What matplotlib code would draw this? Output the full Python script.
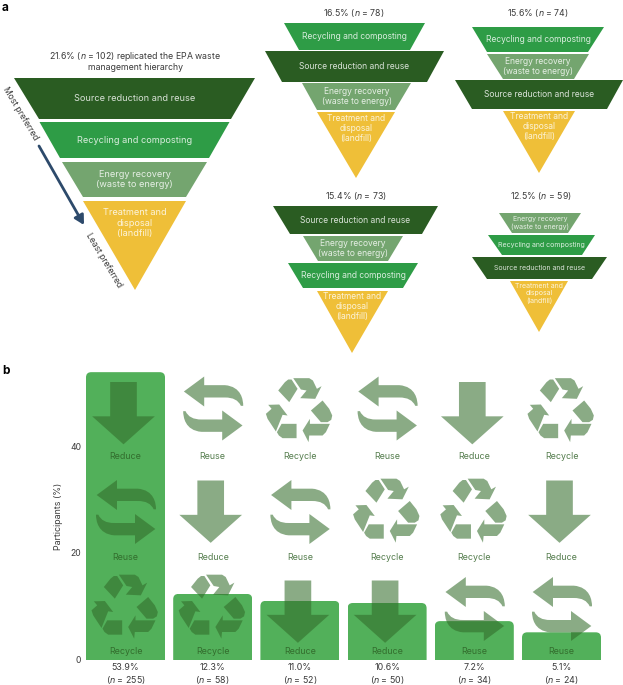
import numpy as np
import matplotlib
matplotlib.use("Agg")
import matplotlib.pyplot as plt
from matplotlib.patches import Polygon, PathPatch, FancyBboxPatch
from matplotlib.path import Path
from matplotlib.transforms import Affine2D

plt.rcParams['font.family'] = ['Inter', 'DejaVu Sans']
plt.rcParams['mathtext.fontset'] = 'custom'
plt.rcParams['mathtext.rm'] = 'Inter'
plt.rcParams['mathtext.it'] = 'Inter:italic'

# panel a
SRC = "Source reduction and reuse"
REC = "Recycling and composting"
ENE = "Energy recovery\n(waste to energy)"
TRT = "Treatment and\ndisposal\n(landfill)"

pyramid_titles = ["21.6% ($\\mathit{n}$ = 102) replicated the EPA waste\nmanagement hierarchy",
                  "16.5% ($\\mathit{n}$ = 78)", "15.6% ($\\mathit{n}$ = 74)",
                  "15.4% ($\\mathit{n}$ = 73)", "12.5% ($\\mathit{n}$ = 59)"]
pyramid_orders = [[SRC, REC, ENE, TRT],
                  [REC, SRC, ENE, TRT],
                  [REC, ENE, SRC, TRT],
                  [SRC, ENE, REC, TRT],
                  [ENE, REC, SRC, TRT]]

# panel b
bar_values = [53.9, 12.3, 11.0, 10.6, 7.2, 5.1]
bar_n = [255, 58, 52, 50, 34, 24]
icon_rows = [["Reduce", "Reuse", "Recycle"],
             ["Reuse", "Reduce", "Recycle"],
             ["Recycle", "Reuse", "Reduce"],
             ["Reuse", "Recycle", "Reduce"],
             ["Reduce", "Recycle", "Reuse"],
             ["Recycle", "Reduce", "Reuse"]]
y_ticks = [0, 20, 40]

# layout, figure pixels: (top y, bottom y, top left, top right, bottom left, bottom right)
tier_boxes = [
    [(78, 119, 14, 255, 39, 231), (122, 158, 39.5, 229.5, 60, 209), (162, 197, 62, 207, 83, 186), (201, 290, 83, 186, 135, 135)],
    [(23, 50, 284, 425, 299, 410), (51, 82, 265, 444, 282, 427), (83, 110, 302, 411, 317, 395), (112, 178, 317, 395, 356, 356)],
    [(27, 52, 472, 604, 487, 588), (54, 79, 487, 589, 503, 574), (80, 109, 455, 623, 472, 607), (111, 173, 503, 575, 539, 539)],
    [(206, 234, 273, 438, 290, 422), (236, 261, 303, 403, 318, 388), (263, 288, 288, 418, 303, 403), (291, 353, 317, 388, 352, 352)],
    [(213, 233, 499, 581, 512, 568), (235, 255, 488, 595, 502, 582), (257, 279, 472, 607, 487, 592), (281, 332, 510, 568, 539, 539)],
]
title_pos = [(135, 61), (354, 12.5), (538, 12.5), (356, 195.5), (541, 195.5)]
tier_fonts = [6.6, 6.1, 6.1, 6.1, 5.0]
tier_colors = {SRC: "#2a5c22", REC: "#2e9c46", ENE: "#74a56f", TRT: "#efbf38"}
text_color = "#3a3a3a"
icon_color = "#326b29"
bar_color = "#52b05a"
icon_y = {"Reduce": [413, 511.5, 611.5], "Reuse": [408.5, 512, 609], "Recycle": [410.5, 511, 607]}
icon_dx = {"Reduce": -2, "Reuse": 0.5, "Recycle": -1}
row_labels = [456.5, 557, 651.5]

fig = plt.figure(figsize=(6.23, 6.85), dpi=100)

# bar axes: 0 at y=659.5, 5.33 px per percent, bars every 87.2 px
ax = fig.add_axes([82 / 623, (685 - 659.5) / 685, 528 / 623, 293.2 / 685])
ax.set_ylim(0, 55)
ax.set_xlim((82 - 125.5) / 87.2, (610 - 125.5) / 87.2)
bars = ax.bar(range(len(bar_values)), bar_values, width=0.906, color=bar_color, zorder=1)
for b in bars:
    clip = FancyBboxPatch((b.get_x(), -5), b.get_width(), b.get_height() + 5,
                          boxstyle="round,pad=0,rounding_size=0.06", mutation_aspect=87.2 / 5.33,
                          transform=ax.transData)
    b.set_clip_path(clip)
for s in ax.spines.values():
    s.set_visible(False)
ax.set_xticks([])
ax.set_yticks(y_ticks)
ax.tick_params(axis='y', length=0, labelsize=6.2, labelcolor=text_color, pad=0.5)
ax.set_ylabel("Participants (%)", fontsize=6.4, color=text_color, labelpad=5, y=0.489)

# overlay in figure pixels for the diagrams
ov = fig.add_axes([0, 0, 1, 1], zorder=3)
ov.set_xlim(0, 623)
ov.set_ylim(685, 0)
ov.axis('off')
ov.patch.set_alpha(0)


def draw_pyramid(order, boxes, title, tpos, fs):
    ov.text(tpos[0], tpos[1], title, ha='center', va='center', fontsize=6.3,
            color=text_color, linespacing=0.95)
    for name, (t, b, tl, tr, bl, br) in zip(order, boxes):
        ov.add_patch(Polygon([(tl, t), (tr, t), (br, b), (bl, b)], closed=True, color=tier_colors[name], lw=0))
        ty = (t + b) / 2
        if name == TRT:
            ty = t + 0.25 * (b - t)
        ov.text((tl + tr) / 2, ty, name, ha='center', va='center', fontsize=fs, color="white",
                alpha=0.82, linespacing=1.2)


for i in range(5):
    draw_pyramid(pyramid_orders[i], tier_boxes[i], pyramid_titles[i], title_pos[i], tier_fonts[i])

ov.annotate("", xy=(84, 225), xytext=(39, 146),
            arrowprops=dict(arrowstyle="-|>,head_length=0.55,head_width=0.3", color="#2d4a6b", lw=2, shrinkA=0, shrinkB=0))
ov.text(20, 114, "Most preferred", rotation=-59, ha='center', va='center', fontsize=6.2, color=text_color)
ov.text(104, 260, "Least preferred", rotation=-59, ha='center', va='center', fontsize=6.2, color=text_color)

ov.text(2, 8, "a", fontsize=8.5, fontweight='bold', color="black", ha='left', va='center')
ov.text(2, 371, "b", fontsize=8.5, fontweight='bold', color="black", ha='left', va='center')

# icon shapes, traced at 3x around their centre, y down
MOVE, LINE, CURVE, CLOSE = Path.MOVETO, Path.LINETO, Path.CURVE4, Path.CLOSEPOLY


def closed(pts):
    pts = (np.array(pts + pts[:1], dtype=float)) / 3
    return Path(pts, [MOVE] + [LINE] * (len(pts) - 2) + [CLOSE])


def reduce_path():
    return closed([(-40, -93), (40, -93), (40, 10), (94, 10), (0, 94), (-94, 10), (-40, 10)])


def reuse_path():
    verts = [(-88, -51), (-27, -96), (-27, -70), (35, -70), (85, -66), (90, -25), (90, -8),
             (83, -8), (75, -25), (60, -33), (35, -33), (-27, -33), (-27, -6), (-88, -51)]
    codes = [MOVE, LINE, LINE, LINE, CURVE, CURVE, CURVE, LINE, CURVE, CURVE, CURVE, LINE, LINE, CLOSE]
    top = Path(np.array(verts, dtype=float) / 3, codes)
    return Path.make_compound_path(top, top.transformed(Affine2D().rotate_deg(180)))


def recycle_path():
    parts = [
        # top
        [(-62, -60), (-42, -85), (-32, -93), (-22, -93), (-4, -65), (-29, -25)],
        [(-17, -97), (31, -97), (42, -90), (54, -65), (68, -73), (49, -35), (4, -37), (23, -60), (6, -63)],
        # right
        [(36, 0), (71, -30), (91, -5), (100, 15), (97, 28), (86, 35), (66, 35)],
        [(93, 40), (33, 40), (33, 25), (11, 60), (29, 95), (31, 75), (71, 75), (81, 65)],
        # left
        [(-7, 40), (-7, 83), (-49, 83), (-60, 75), (-66, 65), (-52, 40)],
        [(-92, -17), (-59, -18), (-34, 15), (-49, 13), (-69, 63), (-94, 25), (-99, 10), (-82, -5)],
    ]
    return Path.make_compound_path(*[closed(q) for q in parts])


icon_paths = {"Reduce": reduce_path(), "Reuse": reuse_path(), "Recycle": recycle_path()}

for c, col in enumerate(icon_rows):
    cx = ax.transData.transform((c, 0))[0] * 100 / fig.dpi
    for r, name in enumerate(col):
        tr = Affine2D().translate(cx + icon_dx[name], icon_y[name][r]) + ov.transData
        ov.add_patch(PathPatch(icon_paths[name], facecolor=icon_color, edgecolor='none', alpha=0.57, transform=tr))
        ov.text(cx, row_labels[r], name, ha='center', va='center', fontsize=6.4, color="#2b5d22", alpha=0.8)
    ov.text(cx, 668, "%.1f%%" % bar_values[c], ha='center', va='center', fontsize=6.4, color=text_color)
    ov.text(cx, 679.5, "($\\mathit{n}$ = %d)" % bar_n[c], ha='center', va='center', fontsize=6.4, color=text_color)

fig.savefig("out.png", dpi=100)
